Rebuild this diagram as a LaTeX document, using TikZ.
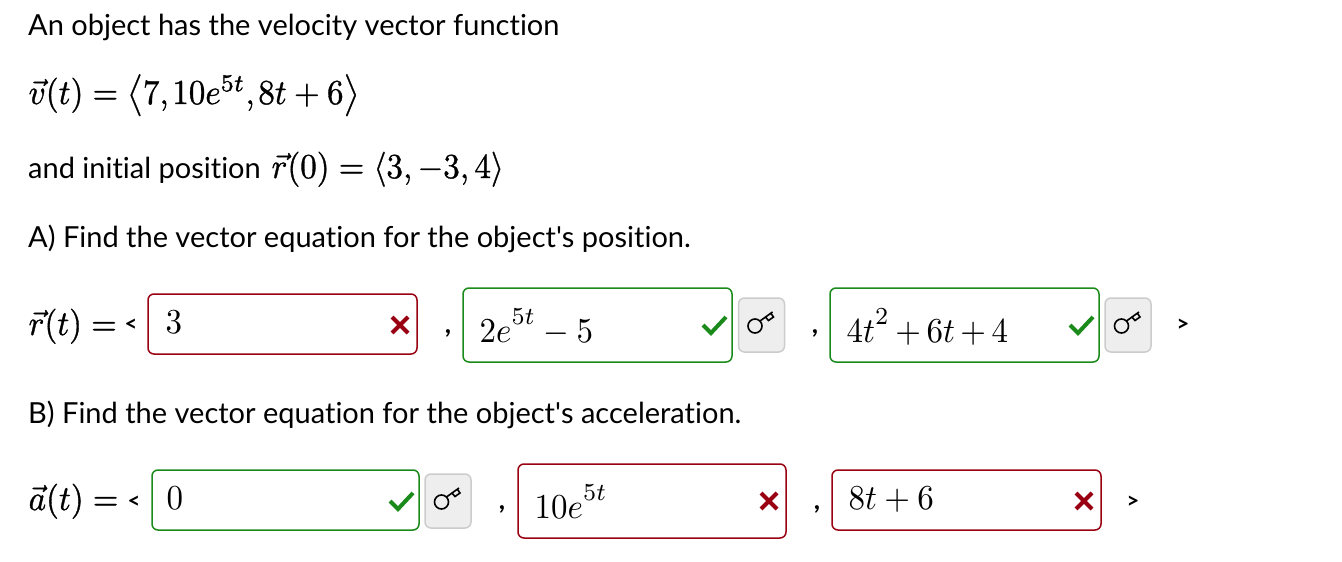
\documentclass[tikz,border=0pt]{standalone}
\usepackage{amsmath}
\usepackage{fontspec}
\setmainfont{Lato}[Ligatures=NoCommon]
\definecolor{wrongred}{HTML}{990011}
\definecolor{rightgreen}{HTML}{1A8A1A}
\definecolor{keygray}{HTML}{EEEEEE}
\definecolor{keyedge}{HTML}{CCCCCC}
\newcommand{\upsup}[1]{^{\raisebox{1.3pt}{$\scriptstyle #1$}}}
\newcommand{\heavy}[1]{\special{pdf:code q 2 Tr 0.1 w}#1\special{pdf:code Q}}
\tikzset{
	prose/.style={anchor=base west, inner sep=0pt, font=\fontsize{29}{32}\selectfont},
	formula/.style={anchor=base west, inner sep=0pt, xscale=3.3, yscale=3.5},
	sign/.style={anchor=base, inner sep=0pt, font=\fontsize{22}{26}\selectfont\bfseries},
	sep/.style={sign, font=\fontsize{27}{30}\selectfont\bfseries},
	ansbox/.style={draw, rounded corners=6pt, line width=1.5pt, inner sep=0pt},
	wrongbox/.style={ansbox, draw=wrongred},
	rightbox/.style={ansbox, draw=rightgreen},
	keybox/.style={draw=keyedge, fill=keygray, rounded corners=6pt, line width=1.5pt, inner sep=0pt, minimum width=46pt, minimum height=54pt},
	crossmark/.pic={\draw[wrongred, line width=4.2pt] (-8,-8) -- (8,8) (-8,8) -- (8,-8);},
	checkmark/.pic={\draw[rightgreen, line width=4pt] (-12,0) -- (-4,8) -- (11,-8);},
	keymark/.pic={\draw[black, line width=1.6pt] (-6.5,1) circle (7pt) (-1.5,-4) -- (11,-13) (4,-8) -- (7,-4.5) -- (12,-8) -- (9.5,-11.5);}
}
\begin{document}
\begin{tikzpicture}[x=1pt, y=-1pt]
	\useasboundingbox (0,0) rectangle (1342,562);

	\node[prose] at (28,35) (intro) {An object has the velocity vector function};
	\node[formula] at (28,104) (velocity) {\heavy{$\vec{v}(t)=\bigl\langle 7,\mkern-1mu 10e^{5t},\mkern-1mu 8t+6\bigr\rangle$}};
	\node[prose] at (28,178) (initial) {and initial position};
	\node[formula] at (271,178) (start) {\heavy{$\vec{r}(0)=\langle 3,-3,4\rangle$}};
	\node[prose] at (28,247) (parta) {A) Find the vector equation for the object\textquotesingle s position.};
	\node[prose] at (28,423) (partb) {B) Find the vector equation for the object\textquotesingle s acceleration.};

	% row A
	\node[formula] at (28,335) (rlabel) {\heavy{$\vec{r}(t)=$}};
	\node[sign] at (131,331) (ropen) {<};
	\node[wrongbox, minimum width=269pt, minimum height=60pt] at (282.5,324) (rx) {};
	\node[formula] at (165,333) (rxval) {$3$};
	\pic at (400,325) {crossmark};
	\node[sep] at (448,333) (rca) {,};
	\node[rightbox, minimum width=269pt, minimum height=74pt] at (597.5,325) (ry) {};
	\node[formula] at (479,342) (ryval) {$2e\upsup{5t}-5$};
	\pic at (715,325) {checkmark};
	\node[keybox] at (761.5,325) (rykey) {};
	\pic at (761.5,325) {keymark};
	\node[sep] at (815,333) (rcb) {,};
	\node[rightbox, minimum width=269pt, minimum height=74pt] at (964.5,325) (rz) {};
	\node[formula] at (846,342) (rzval) {$\medmuskip=3mu 4t\upsup{2}+6t+4$};
	\pic at (1082,325) {checkmark};
	\node[keybox] at (1128,325) (rzkey) {};
	\pic at (1128,325) {keymark};
	\node[sign] at (1183,331) (rclose) {>};

	% row B
	\node[formula] at (28,510) (alabel) {\heavy{$\vec{a}(t)=$}};
	\node[sign] at (134,508) (aopen) {<};
	\node[rightbox, minimum width=267pt, minimum height=60pt] at (285.5,500) (ax) {};
	\node[formula] at (166,509) (axval) {$0$};
	\pic at (402,501) {checkmark};
	\node[keybox] at (448,501) (axkey) {};
	\pic at (448,501) {keymark};
	\node[sep] at (502,509) (aca) {,};
	\node[wrongbox, minimum width=268pt, minimum height=74pt] at (652,501) (ay) {};
	\node[formula] at (534,518) (ayval) {$10e\upsup{5t}$};
	\pic at (769,501) {crossmark};
	\node[sep] at (817,509) (acb) {,};
	\node[wrongbox, minimum width=269pt, minimum height=60pt] at (966.5,500) (az) {};
	\node[formula] at (848,509) (azval) {$8t+6$};
	\pic at (1084,501) {crossmark};
	\node[sign] at (1133,508) (aclose) {>};
\end{tikzpicture}
\end{document}
